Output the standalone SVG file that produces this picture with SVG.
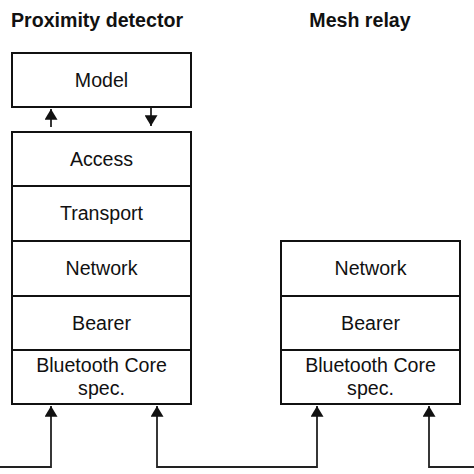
<svg xmlns="http://www.w3.org/2000/svg" width="474" height="474" viewBox="0 0 474 474">
<style>
.box{fill:#fff;stroke:#111;stroke-width:2}
.lbl{font-family:"Liberation Sans",Arial,sans-serif;font-size:19.6px;fill:#111;text-anchor:middle}
.ttl{font-family:"Liberation Sans",Arial,sans-serif;font-size:19.6px;font-weight:bold;fill:#111;text-anchor:middle}
.con{fill:none;stroke:#222;stroke-width:1.8}
</style>
<defs>
<marker id="ah" viewBox="0 0 10 12" refX="10" refY="6" markerWidth="11" markerHeight="13" markerUnits="userSpaceOnUse" orient="auto-start-reverse">
<path d="M0,0 L10,6 L0,12 Z" fill="#111"/>
</marker>
</defs>
<rect width="474" height="474" fill="#fff"/>
<text class="ttl" x="97" y="27">Proximity detector</text>
<text class="ttl" x="360" y="27">Mesh relay</text>
<g id="model"><rect class="box" x="12" y="53" width="179" height="54"/><text class="lbl" x="101.5" y="87">Model</text></g>
<g id="access"><rect class="box" x="12" y="132" width="179" height="54"/><text class="lbl" x="101.5" y="166">Access</text></g>
<g id="transport"><rect class="box" x="12" y="186" width="179" height="55"/><text class="lbl" x="101.5" y="220">Transport</text></g>
<g id="network-l"><rect class="box" x="12" y="241" width="179" height="55"/><text class="lbl" x="101.5" y="275">Network</text></g>
<g id="bearer-l"><rect class="box" x="12" y="296" width="179" height="54"/><text class="lbl" x="101.5" y="330">Bearer</text></g>
<g id="core-l"><rect class="box" x="12" y="350" width="179" height="54"/><text class="lbl" x="101.5" y="372">Bluetooth Core</text><text class="lbl" x="101.5" y="395">spec.</text></g>
<g id="network-r"><rect class="box" x="281" y="241" width="179" height="55"/><text class="lbl" x="370.5" y="275">Network</text></g>
<g id="bearer-r"><rect class="box" x="281" y="296" width="179" height="54"/><text class="lbl" x="370.5" y="330">Bearer</text></g>
<g id="core-r"><rect class="box" x="281" y="350" width="179" height="54"/><text class="lbl" x="370.5" y="372">Bluetooth Core</text><text class="lbl" x="370.5" y="395">spec.</text></g>
<g id="connectors">
<path class="con" d="M51,127 V109" marker-end="url(#ah)"/>
<path class="con" d="M151,108 V126" marker-end="url(#ah)"/>
<path class="con" d="M0,467 H51 V406" marker-end="url(#ah)"/>
<path class="con" d="M157,406 V467 H317 V406" marker-start="url(#ah)" marker-end="url(#ah)"/>
<path class="con" d="M474,467 H429 V406" marker-end="url(#ah)"/>
</g>
</svg>
